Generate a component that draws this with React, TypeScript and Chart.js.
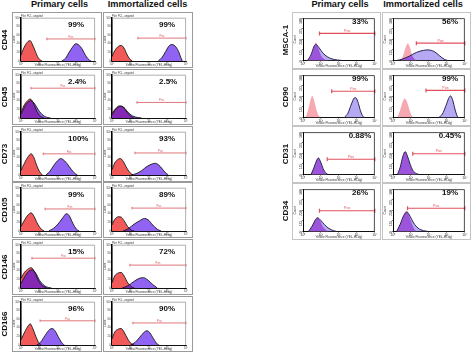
import React, { useEffect, useRef } from "react";
import { Chart, registerables } from "chart.js";

Chart.register(...registerables);

type Pt = [number, number];

// ---------- text ----------
const COL_HEADERS = ["Primary cells", "Immortalized cells"];
const X_TICK_LABELS = ["10⁰", "10¹", "10²", "10³", "10⁴"];
const X_TITLE = "Yellow Fluorescence (YEL-HLog)";
const Y_TITLE = "Count";
const GATE_NAME = "Pos";
const PLOT_NAME = "Plot: FCL, ungated";

// ---------- left block ----------
const LEFT_MARKERS = ["CD44", "CD45", "CD73", "CD105", "CD146", "CD166"];
const LEFT_PCT_PRIMARY = ["99%", "2.4%", "100%", "99%", "15%", "96%"];
const LEFT_PCT_IMMORT = ["99%", "2.5%", "93%", "89%", "72%", "90%"];
const LEFT_GATE_START_P = [1.4, 0.54, 1.2, 1.3, 0.59, 1.03];
const LEFT_GATE_Y_P = [51, 69, 49, 51, 69, 56];
const LEFT_GATE_START_I = [1.4, 1.35, 1.24, 1.08, 0.97, 1.13];
const LEFT_GATE_Y_I = [53, 36, 51, 53, 53, 51];

const CD44_P_NEG: Pt[] = [[0, 13], [0.1, 25], [0.25, 38], [0.4, 46], [0.5, 47], [0.6, 40], [0.75, 25], [0.9, 10], [1.05, 2], [1.15, 0]];
const CD44_P_POS: Pt[] = [[2.2, 0], [2.4, 6], [2.6, 20], [2.8, 33], [2.95, 40], [3.1, 38], [3.3, 28], [3.5, 12], [3.7, 2], [3.8, 0]];
const CD44_I_NEG: Pt[] = [[0, 10], [0.15, 24], [0.35, 34], [0.5, 36], [0.65, 30], [0.8, 16], [0.95, 5], [1.1, 0]];
const CD44_I_POS: Pt[] = [[2.5, 0], [2.7, 8], [2.9, 22], [3.05, 33], [3.2, 38], [3.4, 35], [3.6, 22], [3.72, 8], [3.8, 0]];

const CD45_P_NEG: Pt[] = [[0, 12], [0.15, 28], [0.35, 40], [0.5, 44], [0.65, 36], [0.85, 16], [1.05, 4], [1.25, 0]];
const CD45_P_POS: Pt[] = [[0, 8], [0.15, 22], [0.35, 36], [0.55, 40], [0.75, 32], [0.95, 18], [1.2, 6], [1.45, 1], [1.6, 0]];
const CD45_I_NEG: Pt[] = [[0, 10], [0.2, 22], [0.4, 28], [0.6, 26], [0.8, 14], [1.0, 4], [1.2, 0]];
const CD45_I_POS: Pt[] = [[0, 7], [0.2, 20], [0.45, 27], [0.65, 24], [0.85, 14], [1.1, 5], [1.4, 1], [1.6, 0]];

const CD73_P_NEG: Pt[] = [[0, 10], [0.15, 24], [0.35, 40], [0.55, 49], [0.7, 40], [0.85, 22], [1.0, 8], [1.15, 0]];
const CD73_P_POS: Pt[] = [[1.35, 0], [1.55, 8], [1.8, 24], [2.0, 34], [2.15, 38], [2.35, 33], [2.6, 20], [2.85, 6], [3.05, 0]];
const CD73_I_NEG: Pt[] = [[0, 12], [0.15, 28], [0.35, 37], [0.45, 38], [0.6, 32], [0.8, 16], [1.0, 4], [1.15, 0]];
const CD73_I_POS: Pt[] = [[1.05, 0], [1.3, 3], [1.6, 10], [1.9, 20], [2.2, 26], [2.35, 27], [2.6, 20], [2.85, 7], [3.05, 0]];

const CD105_P_NEG: Pt[] = [[0, 10], [0.2, 26], [0.4, 38], [0.55, 42], [0.7, 34], [0.9, 16], [1.1, 4], [1.25, 0]];
const CD105_P_POS: Pt[] = [[1.5, 0], [1.75, 6], [2.0, 16], [2.25, 30], [2.45, 40], [2.6, 36], [2.8, 18], [3.0, 4], [3.15, 0]];
const CD105_I_NEG: Pt[] = [[0, 14], [0.15, 27], [0.35, 33], [0.5, 32], [0.65, 24], [0.85, 10], [1.05, 2], [1.2, 0]];
const CD105_I_POS: Pt[] = [[0.6, 0], [0.9, 6], [1.2, 16], [1.5, 24], [1.75, 29], [1.95, 26], [2.2, 14], [2.45, 4], [2.65, 0]];

const CD146_P_NEG: Pt[] = [[0, 22], [0.15, 34], [0.35, 43], [0.55, 47], [0.75, 36], [0.95, 16], [1.2, 4], [1.4, 0]];
const CD146_P_POS: Pt[] = [[0, 10], [0.2, 26], [0.4, 38], [0.6, 42], [0.8, 34], [1.0, 18], [1.25, 6], [1.5, 1], [1.65, 0]];
const CD146_I_NEG: Pt[] = [[0, 12], [0.15, 28], [0.35, 35], [0.5, 36], [0.65, 28], [0.85, 12], [1.05, 3], [1.2, 0]];
const CD146_I_POS: Pt[] = [[0.55, 0], [0.85, 5], [1.15, 14], [1.45, 22], [1.7, 24], [1.95, 18], [2.2, 8], [2.45, 0]];

const CD166_P_NEG: Pt[] = [[0, 12], [0.2, 30], [0.4, 45], [0.5, 49], [0.62, 40], [0.8, 20], [0.95, 6], [1.1, 0]];
const CD166_P_POS: Pt[] = [[0.85, 0], [1.05, 6], [1.3, 22], [1.55, 36], [1.7, 38], [1.85, 32], [2.05, 16], [2.25, 3], [2.35, 0]];
const CD166_I_NEG: Pt[] = [[0, 14], [0.15, 30], [0.35, 37], [0.5, 38], [0.65, 30], [0.85, 14], [1.05, 3], [1.2, 0]];
const CD166_I_POS: Pt[] = [[1.0, 0], [1.25, 6], [1.5, 18], [1.75, 30], [1.9, 33], [2.05, 28], [2.25, 14], [2.45, 2], [2.55, 0]];

const LEFT_P_NEG = [CD44_P_NEG, CD45_P_NEG, CD73_P_NEG, CD105_P_NEG, CD146_P_NEG, CD166_P_NEG];
const LEFT_P_POS = [CD44_P_POS, CD45_P_POS, CD73_P_POS, CD105_P_POS, CD146_P_POS, CD166_P_POS];
const LEFT_I_NEG = [CD44_I_NEG, CD45_I_NEG, CD73_I_NEG, CD105_I_NEG, CD146_I_NEG, CD166_I_NEG];
const LEFT_I_POS = [CD44_I_POS, CD45_I_POS, CD73_I_POS, CD105_I_POS, CD146_I_POS, CD166_I_POS];

// ---------- right block ----------
const RIGHT_MARKERS = ["MSCA-1", "CD90", "CD31", "CD34"];
const RIGHT_PCT_PRIMARY = ["33%", "99%", "0.88%", "26%"];
const RIGHT_PCT_IMMORT = ["56%", "99%", "0.45%", "19%"];
const RIGHT_GATE_START_P = [0.92, 1.6, 1.35, 0.92];
const RIGHT_GATE_Y_P = [320, 310, 180, 245];
const RIGHT_GATE_START_I = [1.3, 1.84, 1.1, 0.81];
const RIGHT_GATE_Y_I = [205, 320, 245, 275];

const MSCA_P_NEG: Pt[] = [[0.25, 0], [0.45, 60], [0.6, 160], [0.72, 215], [0.85, 150], [1.0, 60], [1.2, 15], [1.4, 0]];
const MSCA_P_POS: Pt[] = [[0.25, 0], [0.45, 70], [0.6, 160], [0.72, 190], [0.9, 150], [1.1, 90], [1.35, 45], [1.6, 20], [1.9, 6], [2.2, 0]];
const MSCA_I_NEG: Pt[] = [[0.45, 0], [0.6, 80], [0.75, 180], [0.82, 200], [0.95, 150], [1.05, 70], [1.2, 15], [1.35, 0]];
const MSCA_I_POS: Pt[] = [[0.2, 0], [0.5, 15], [0.9, 50], [1.3, 95], [1.7, 120], [1.95, 125], [2.3, 105], [2.6, 55], [2.85, 15], [3.05, 0]];

const CD90_P_NEG: Pt[] = [[0.15, 0], [0.3, 100], [0.45, 230], [0.52, 255], [0.62, 200], [0.75, 90], [0.9, 15], [1.0, 0]];
const CD90_P_POS: Pt[] = [[2.3, 0], [2.5, 50], [2.7, 160], [2.85, 230], [2.92, 235], [3.05, 190], [3.2, 80], [3.35, 10], [3.45, 0]];
const CD90_I_NEG: Pt[] = [[0.25, 0], [0.4, 90], [0.55, 190], [0.65, 225], [0.78, 185], [0.92, 90], [1.05, 20], [1.15, 0]];
const CD90_I_POS: Pt[] = [[2.55, 0], [2.75, 40], [2.95, 140], [3.1, 225], [3.2, 255], [3.32, 210], [3.45, 100], [3.58, 15], [3.65, 0]];

const CD31_P_NEG: Pt[] = [[0.45, 0], [0.6, 80], [0.78, 180], [0.86, 200], [0.98, 150], [1.1, 70], [1.25, 15], [1.35, 0]];
const CD31_P_POS: Pt[] = [[0.45, 0], [0.6, 75], [0.78, 175], [0.86, 195], [0.98, 150], [1.12, 70], [1.28, 15], [1.4, 0]];
const CD31_I_NEG: Pt[] = [[0.25, 0], [0.4, 90], [0.55, 220], [0.68, 275], [0.8, 220], [0.95, 120], [1.1, 45], [1.25, 10], [1.4, 0]];
const CD31_I_POS: Pt[] = [[0.25, 0], [0.4, 85], [0.55, 215], [0.68, 270], [0.8, 220], [0.95, 125], [1.1, 50], [1.3, 12], [1.45, 0]];

const CD34_P_NEG: Pt[] = [[0.3, 0], [0.5, 70], [0.7, 150], [0.8, 170], [0.95, 130], [1.1, 60], [1.3, 15], [1.45, 0]];
const CD34_P_POS: Pt[] = [[0.3, 0], [0.5, 60], [0.7, 140], [0.82, 160], [1.0, 130], [1.2, 80], [1.45, 35], [1.7, 10], [1.9, 0]];
const CD34_I_NEG: Pt[] = [[0.2, 0], [0.4, 90], [0.6, 200], [0.75, 245], [0.9, 180], [1.05, 90], [1.2, 25], [1.35, 0]];
const CD34_I_POS: Pt[] = [[0.2, 0], [0.4, 85], [0.6, 190], [0.78, 230], [0.95, 180], [1.15, 100], [1.4, 40], [1.7, 10], [2.0, 0]];

const RIGHT_P_NEG = [MSCA_P_NEG, CD90_P_NEG, CD31_P_NEG, CD34_P_NEG];
const RIGHT_P_POS = [MSCA_P_POS, CD90_P_POS, CD31_P_POS, CD34_P_POS];
const RIGHT_I_NEG = [MSCA_I_NEG, CD90_I_NEG, CD31_I_NEG, CD34_I_NEG];
const RIGHT_I_POS = [MSCA_I_POS, CD90_I_POS, CD31_I_POS, CD34_I_POS];

// ---------- layout / style ----------
const FONT = "'Liberation Sans', Arial, sans-serif";

const STYLES: any = {
  L: {
    w: 90, h: 56, border: "1px solid #9a9a9a", bw: 1,
    yAxisW: 8, xAxisH: 6, padTop: 3, padRight: 6, yMax: 100, yStep: 20,
    tickFont: 2.6, xTickFont: 2.6, titleFont: 3.2, yTitleFont: 2.8,
    negFill: "#f25a5a", negLine: "#1a1a1a", negLineW: 0.9,
    posFill: "#9063f2", posLine: "#1a1a1a", posLineW: 0.9,
    overlap: "#8628b6", gate: "#d9555a", gateW: 0.8, gateTick: 1.3, gateFont: 2.8,
    boxColor: "#9a9a9a", plotTitle: true, pctLeft: 55, pctCenter: false, pctTop: 7, yRot: 0,
  },
  R: {
    w: 89, h: 57, border: "1px solid #c4c4c4", bw: 1,
    yAxisW: 10, xAxisH: 7.5, padTop: 1.5, padRight: 3, yMax: 500, yStep: 125,
    tickFont: 3.2, xTickFont: 3.4, titleFont: 3.2, yTitleFont: 3.2,
    negFill: "#f6a9b0", negLine: "rgba(0,0,0,0)", negLineW: 0,
    posFill: "#b6a8f3", posLine: "#27264f", posLineW: 1,
    overlap: "#9c55da", gate: "#e2505c", gateW: 1.2, gateTick: 2, gateFont: 3.6,
    boxColor: "#222", plotTitle: false, pctLeft: 67, pctCenter: true, pctTop: 4, yRot: 90,
  },
};

const LEFT_COL_X = [12, 103];
const LEFT_ROW_Y = [12, 69, 126, 182, 239, 296];
const RIGHT_COL_X = [292, 382];
const RIGHT_ROW_Y = [12, 69, 126, 183];
const HEADER_X = [59.5, 147.5, 340, 423];

// ---------- plugins ----------
function areaPath(ctx: CanvasRenderingContext2D, meta: any, base: number) {
  const pts = meta.data;
  ctx.beginPath();
  meta.dataset.path(ctx);
  ctx.lineTo(pts[pts.length - 1].x, base);
  ctx.lineTo(pts[0].x, base);
  ctx.closePath();
}

const overlapPlugin = {
  id: "overlap",
  afterDatasetDraw(chart: any, args: any, opts: any) {
    if (args.index !== 1) return;
    const { ctx, chartArea: ca } = chart;
    const base = chart.scales.y.getPixelForValue(0);
    const negMeta = chart.getDatasetMeta(0);
    const posMeta = chart.getDatasetMeta(1);
    ctx.save();
    ctx.beginPath();
    ctx.rect(ca.left, ca.top, ca.right - ca.left, ca.bottom - ca.top);
    ctx.clip();
    areaPath(ctx, negMeta, base);
    ctx.clip();
    areaPath(ctx, posMeta, base);
    ctx.fillStyle = opts.fillColor;
    ctx.fill();
    ctx.restore();
    ctx.save();
    ctx.beginPath();
    ctx.rect(ca.left, ca.top - 2, ca.right - ca.left, ca.bottom - ca.top + 2);
    ctx.clip();
    ctx.lineJoin = "round";
    if (opts.negW > 0) {
      ctx.beginPath();
      negMeta.dataset.path(ctx);
      ctx.strokeStyle = opts.negLine;
      ctx.lineWidth = opts.negW;
      ctx.stroke();
    }
    ctx.beginPath();
    posMeta.dataset.path(ctx);
    ctx.strokeStyle = opts.posLine;
    ctx.lineWidth = opts.posW;
    ctx.stroke();
    ctx.restore();
  },
};

const decorPlugin = {
  id: "decor",
  afterDraw(chart: any, _a: any, opts: any) {
    const { ctx, chartArea: ca } = chart;
    ctx.save();
    ctx.strokeStyle = opts.boxColor;
    ctx.lineWidth = 0.8;
    ctx.beginPath();
    ctx.moveTo(ca.left, ca.top + 0.4);
    ctx.lineTo(ca.right - 0.4, ca.top + 0.4);
    ctx.lineTo(ca.right - 0.4, ca.bottom);
    ctx.stroke();
    if (opts.plotTitle) {
      ctx.fillStyle = "#333";
      ctx.font = `2.6px ${FONT}`;
      ctx.textBaseline = "bottom";
      ctx.textAlign = "left";
      ctx.fillText(PLOT_NAME, ca.left, ca.top - 0.2);
    }
    const g = chart.getDatasetMeta(2).data;
    if (g.length === 2) {
      ctx.fillStyle = opts.gate;
      ctx.font = `${opts.gateFont}px ${FONT}`;
      ctx.textAlign = "center";
      ctx.textBaseline = "bottom";
      ctx.fillText(GATE_NAME, (g[0].x + g[1].x) / 2, g[0].y - 0.6);
    }
    ctx.restore();
  },
};

function makeConfig(kind: string, neg: Pt[], pos: Pt[], gateStart: number, gateY: number) {
  const S = STYLES[kind];
  const toXY = (arr: Pt[]) => arr.map(([x, y]) => ({ x, y }));
  return {
    type: "line",
    data: {
      datasets: [
        { order: 3, data: toXY(neg), fill: "origin", backgroundColor: S.negFill, borderColor: "rgba(0,0,0,0)", borderWidth: 0, pointRadius: 0, cubicInterpolationMode: "monotone" },
        { order: 2, data: toXY(pos), fill: "origin", backgroundColor: S.posFill, borderColor: "rgba(0,0,0,0)", borderWidth: 0, pointRadius: 0, cubicInterpolationMode: "monotone" },
        {
          order: 1,
          data: [{ x: gateStart, y: gateY }, { x: 4, y: gateY }], fill: false, borderColor: S.gate, borderWidth: S.gateW,
          pointRadius: S.gateTick, pointStyle: "line", rotation: 90, pointBorderColor: S.gate, pointBorderWidth: S.gateW, clip: 4,
        },
      ],
    },
    options: {
      animation: false, responsive: false, maintainAspectRatio: false, events: [],
      layout: { padding: { top: S.padTop, right: S.padRight, left: 0, bottom: 0 } },
      plugins: {
        legend: { display: false }, tooltip: { enabled: false },
        overlap: { fillColor: S.overlap, negLine: S.negLine, negW: S.negLineW, posLine: S.posLine, posW: S.posLineW },
        decor: { boxColor: S.boxColor, plotTitle: S.plotTitle, gate: S.gate, gateFont: S.gateFont },
      },
      scales: {
        x: {
          type: "linear", min: 0, max: 4,
          afterFit: (s: any) => { s.height = S.xAxisH; },
          ticks: { stepSize: 1, autoSkip: false, maxRotation: 0, padding: 0.3, color: "#333", font: { size: S.xTickFont, family: FONT }, callback: (v: number) => X_TICK_LABELS[v] },
          grid: { drawOnChartArea: false, tickLength: 1.2, color: "#222", lineWidth: 0.6 },
          border: { color: "#111", width: 1 },
          title: { display: true, text: X_TITLE, color: "#333", font: { size: S.titleFont, family: FONT }, padding: 0 },
        },
        y: {
          min: 0, max: S.yMax,
          afterFit: (s: any) => { s.width = S.yAxisW; },
          ticks: { stepSize: S.yStep, padding: 0.3, color: "#333", minRotation: S.yRot, maxRotation: S.yRot, font: { size: S.tickFont, family: FONT } },
          grid: { drawOnChartArea: false, tickLength: 1.2, color: "#222", lineWidth: 0.6 },
          border: { color: "#000", width: kind === "L" ? 1.6 : 1 },
          title: { display: true, text: Y_TITLE, color: "#333", font: { size: S.yTitleFont, family: FONT }, padding: 0 },
        },
      },
    },
    plugins: [overlapPlugin, decorPlugin],
  };
}

function Panel(props: { kind: string; x: number; y: number; neg: Pt[]; pos: Pt[]; gateStart: number; gateY: number; pct: string }) {
  const { kind, x, y, neg, pos, gateStart, gateY, pct } = props;
  const S = STYLES[kind];
  const ref = useRef<HTMLCanvasElement>(null);
  const cw = S.w - 2 * S.bw;
  const ch = S.h - 2 * S.bw;
  useEffect(() => {
    const chart = new Chart(ref.current as any, makeConfig(kind, neg, pos, gateStart, gateY) as any);
    return () => chart.destroy();
  }, []);
  const pctStyle: any = S.pctCenter
    ? { position: "absolute", left: S.pctLeft - 20, width: 40, textAlign: "center", top: S.pctTop }
    : { position: "absolute", left: S.pctLeft, top: S.pctTop };
  return (
    <div style={{ position: "absolute", left: x, top: y, width: S.w, height: S.h, border: S.border, boxSizing: "border-box", background: "#fff" }}>
      <canvas ref={ref} width={cw} height={ch} style={{ display: "block", width: cw, height: ch }} />
      <div style={{ ...pctStyle, font: `bold 8px ${FONT}`, lineHeight: "9px", color: "#111", whiteSpace: "nowrap" }}>{pct}</div>
    </div>
  );
}

function Header({ cx, text }: { cx: number; text: string }) {
  return (
    <div style={{ position: "absolute", left: cx - 60, width: 120, top: -1, textAlign: "center", font: `bold 9.2px ${FONT}`, lineHeight: "11px", color: "#111", whiteSpace: "nowrap" }}>{text}</div>
  );
}

function RowLabel({ cx, cy, text }: { cx: number; cy: number; text: string }) {
  return (
    <div style={{ position: "absolute", left: cx - 25, top: cy - 5, width: 50, height: 10, textAlign: "center", font: `bold 8px ${FONT}`, lineHeight: "10px", color: "#111", transform: "rotate(-90deg)", whiteSpace: "nowrap" }}>{text}</div>
  );
}

export default function App() {
  const panels: any[] = [];
  LEFT_MARKERS.forEach((m, i) => {
    panels.push(<Panel key={`lp${i}`} kind="L" x={LEFT_COL_X[0]} y={LEFT_ROW_Y[i]} neg={LEFT_P_NEG[i]} pos={LEFT_P_POS[i]} gateStart={LEFT_GATE_START_P[i]} gateY={LEFT_GATE_Y_P[i]} pct={LEFT_PCT_PRIMARY[i]} />);
    panels.push(<Panel key={`li${i}`} kind="L" x={LEFT_COL_X[1]} y={LEFT_ROW_Y[i]} neg={LEFT_I_NEG[i]} pos={LEFT_I_POS[i]} gateStart={LEFT_GATE_START_I[i]} gateY={LEFT_GATE_Y_I[i]} pct={LEFT_PCT_IMMORT[i]} />);
    panels.push(<RowLabel key={`ll${i}`} cx={4.5} cy={LEFT_ROW_Y[i] + 28} text={m} />);
  });
  RIGHT_MARKERS.forEach((m, i) => {
    panels.push(<Panel key={`rp${i}`} kind="R" x={RIGHT_COL_X[0]} y={RIGHT_ROW_Y[i]} neg={RIGHT_P_NEG[i]} pos={RIGHT_P_POS[i]} gateStart={RIGHT_GATE_START_P[i]} gateY={RIGHT_GATE_Y_P[i]} pct={RIGHT_PCT_PRIMARY[i]} />);
    panels.push(<Panel key={`ri${i}`} kind="R" x={RIGHT_COL_X[1]} y={RIGHT_ROW_Y[i]} neg={RIGHT_I_NEG[i]} pos={RIGHT_I_POS[i]} gateStart={RIGHT_GATE_START_I[i]} gateY={RIGHT_GATE_Y_I[i]} pct={RIGHT_PCT_IMMORT[i]} />);
    panels.push(<RowLabel key={`rl${i}`} cx={285.5} cy={RIGHT_ROW_Y[i] + 28} text={m} />);
  });
  return (
    <div style={{ position: "absolute", left: 0, top: 0, width: 474, height: 354, background: "#fff", overflow: "hidden" }}>
      <Header cx={HEADER_X[0]} text={COL_HEADERS[0]} />
      <Header cx={HEADER_X[1]} text={COL_HEADERS[1]} />
      <Header cx={HEADER_X[2]} text={COL_HEADERS[0]} />
      <Header cx={HEADER_X[3]} text={COL_HEADERS[1]} />
      {panels}
    </div>
  );
}
